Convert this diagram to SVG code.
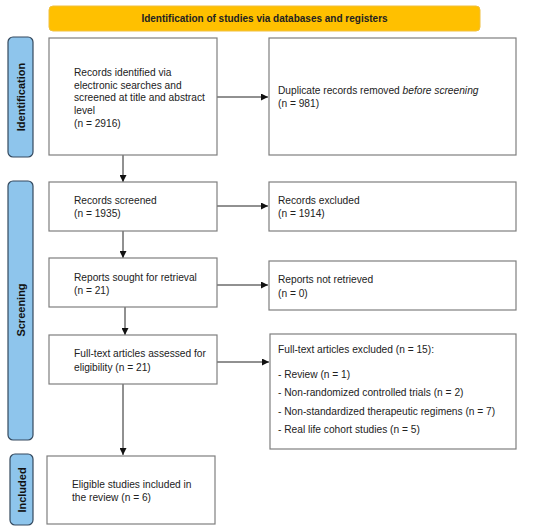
<svg xmlns="http://www.w3.org/2000/svg" width="550" height="532" viewBox="0 0 550 532">
<style>
.box{fill:#fff;stroke:#7f7f7f;stroke-width:1.2}
.side{fill:#8ec5ec;stroke:#34495e;stroke-width:1.2}
.t{font-family:"Liberation Sans",Arial,sans-serif;font-size:10.2px;fill:#222}
.sl{font-family:"Liberation Sans",Arial,sans-serif;font-size:11px;font-weight:bold;fill:#111;text-anchor:middle}
.con{stroke:#222;stroke-width:1;fill:none;marker-end:url(#ah)}
</style>
<defs>
<marker id="ah" viewBox="0 0 10 10" refX="10" refY="5" markerWidth="7" markerHeight="7" markerUnits="userSpaceOnUse" orient="auto">
<path d="M0,0 L10,5 L0,10 z" fill="#111"/>
</marker>
</defs>
<rect width="550" height="532" fill="#fff"/>
<g id="banner">
<rect x="49" y="6" width="431" height="25" rx="4" fill="#ffc000" stroke="#f0c040" stroke-width="1"/>
<text x="264.5" y="22" class="t" style="font-weight:bold;font-size:10px;text-anchor:middle" fill="#111">Identification of studies via databases and registers</text>
</g>
<g id="side-identification">
<rect x="8" y="37" width="25" height="120" rx="5" class="side"/>
<text class="sl" transform="translate(24.5,97) rotate(-90)">Identification</text>
</g>
<g id="side-screening">
<rect x="8" y="181" width="25" height="259" rx="5" class="side"/>
<text class="sl" transform="translate(24.5,310) rotate(-90)">Screening</text>
</g>
<g id="side-included">
<rect x="10" y="454" width="23" height="71" rx="5" class="side"/>
<text class="sl" transform="translate(25.5,490) rotate(-90)">Included</text>
</g>
<g id="connectors">
<line x1="217" y1="97" x2="268" y2="97" class="con"/>
<line x1="123" y1="155" x2="123" y2="182" class="con"/>
<line x1="217" y1="206" x2="268" y2="206" class="con"/>
<line x1="123" y1="231" x2="123" y2="258" class="con"/>
<line x1="217" y1="285" x2="268" y2="285" class="con"/>
<line x1="125" y1="307" x2="125" y2="335" class="con"/>
<line x1="217" y1="362" x2="269" y2="362" class="con"/>
<line x1="123" y1="384" x2="123" y2="455" class="con"/>
</g>
<g id="n1">
<rect x="49" y="38" width="168" height="117" class="box"/>
<text class="t" x="74" y="76">Records identified via</text>
<text class="t" x="74" y="88.5">electronic searches and</text>
<text class="t" x="74" y="101">screened at title and abstract</text>
<text class="t" x="74" y="114">level</text>
<text class="t" x="74" y="127">(n = 2916)</text>
</g>
<g id="n2">
<rect x="269" y="38" width="247" height="117" class="box"/>
<text class="t" x="278" y="94">Duplicate records removed <tspan font-style="italic">before screening</tspan></text>
<text class="t" x="278" y="107">(n = 981)</text>
</g>
<g id="n3">
<rect x="49" y="182" width="168" height="49" class="box"/>
<text class="t" x="74" y="204">Records screened</text>
<text class="t" x="74" y="217">(n = 1935)</text>
</g>
<g id="n4">
<rect x="269" y="182" width="247" height="49" class="box"/>
<text class="t" x="278" y="204">Records excluded</text>
<text class="t" x="278" y="217">(n = 1914)</text>
</g>
<g id="n5">
<rect x="49" y="258" width="168" height="49" class="box"/>
<text class="t" x="74" y="281">Reports sought for retrieval</text>
<text class="t" x="74" y="294">(n = 21)</text>
</g>
<g id="n6">
<rect x="269" y="261" width="247" height="49" class="box"/>
<text class="t" x="278" y="283">Reports not retrieved</text>
<text class="t" x="278" y="297">(n = 0)</text>
</g>
<g id="n7">
<rect x="49" y="335" width="168" height="49" class="box"/>
<text class="t" x="74" y="357">Full-text articles assessed for</text>
<text class="t" x="74" y="371">eligibility (n = 21)</text>
</g>
<g id="n8">
<rect x="270" y="334" width="246" height="115" class="box"/>
<text class="t" x="278" y="353">Full-text articles excluded (n = 15):</text>
<text class="t" x="278" y="378">- Review (n = 1)</text>
<text class="t" x="278" y="396">- Non-randomized controlled trials (n = 2)</text>
<text class="t" x="278" y="415">- Non-standardized therapeutic regimens (n = 7)</text>
<text class="t" x="278" y="433">- Real life cohort studies (n = 5)</text>
</g>
<g id="n9">
<rect x="47" y="456" width="168" height="68" class="box"/>
<text class="t" x="72" y="488">Eligible studies included in</text>
<text class="t" x="72" y="501">the review (n = 6)</text>
</g>
</svg>
